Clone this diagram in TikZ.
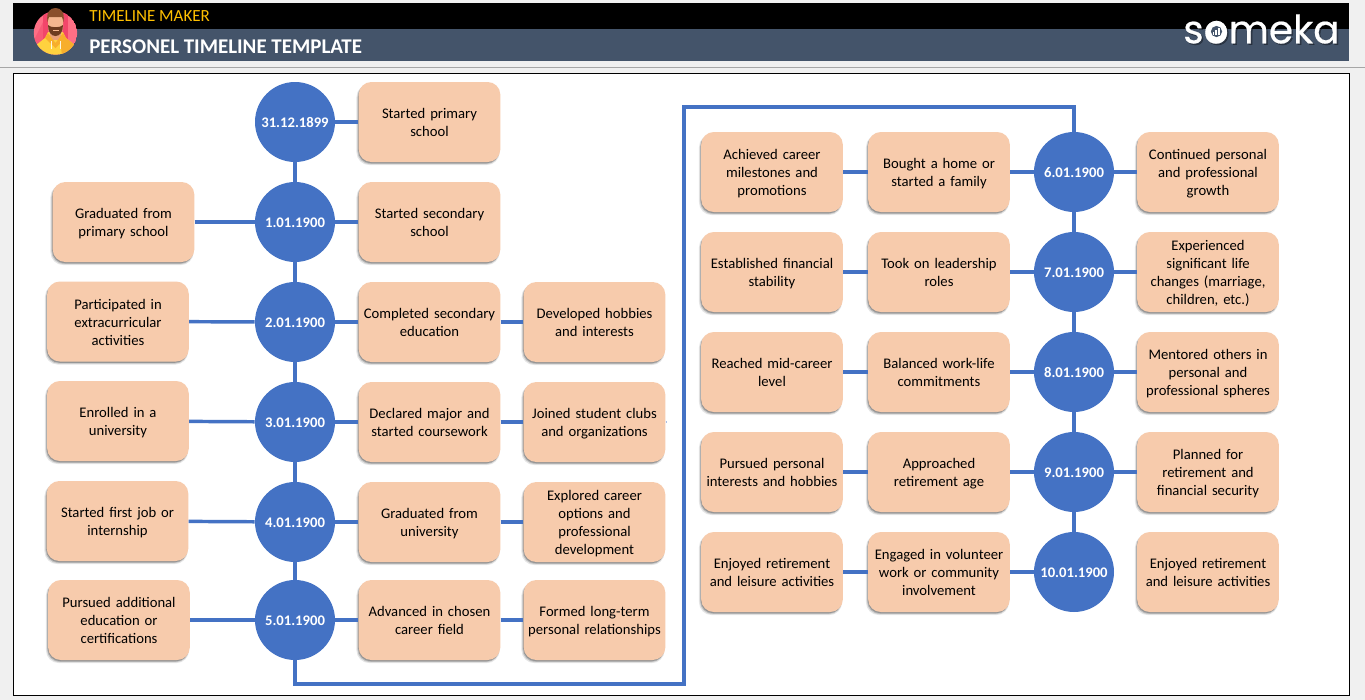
\documentclass[tikz,border=0pt]{standalone}
\usepackage{fontspec}
\setmainfont{Carlito}
\newfontfamily\logofont[FakeBold=0.5]{Poppins}
\usetikzlibrary{shadows,calc}
\definecolor{pagebg}{HTML}{F0F0F0}
\definecolor{slate}{HTML}{44546A}
\definecolor{linkblue}{HTML}{4472C4}
\definecolor{linklight}{HTML}{A9BEE6}
\definecolor{peach}{HTML}{F7CBAC}
\definecolor{gold}{HTML}{FFC000}
\definecolor{sepgray}{HTML}{A6A6A6}
\definecolor{pinkbg}{HTML}{FE6F85}
\definecolor{pinkdk}{HTML}{F2466A}
\definecolor{hair}{HTML}{8A4F2C}
\definecolor{beard}{HTML}{6E3B20}
\definecolor{skin}{HTML}{F4B690}
\definecolor{skindk}{HTML}{E9A079}
\definecolor{hoodie}{HTML}{FFD23F}
\definecolor{hoodiedk}{HTML}{F7AE2C}
\tikzset{
  x=0.75pt,y=-0.75pt,
  evbox/.style={
    general shadow={shadow xshift=-1.1pt,shadow yshift=-2pt,shadow scale=1.01,fill=black,opacity=.10},
    general shadow={shadow xshift=-.9pt,shadow yshift=-1.6pt,fill=black,opacity=.16},
    general shadow={shadow xshift=-.6pt,shadow yshift=-1.1pt,shadow scale=.995,fill=black,opacity=.22},
    fill=peach,draw=none,rounded corners=9.5pt,minimum width=106.25pt,minimum height=60pt,
    align=center,text width=102pt,inner sep=0pt,font=\fontsize{11}{13.5}\selectfont,text=black,
    execute at begin node={\rule{0pt}{12.45pt}},execute at end node={\rule[-4.05pt]{0pt}{0pt}}},
  datedot/.style={circle,fill=linkblue,draw=none,minimum size=60pt,inner sep=0pt,
    font=\fontsize{11}{13.5}\selectfont\bfseries,text=white,text height=10.5pt,text depth=2.2pt},
  link/.style={draw=linkblue,line width=2.6pt},
  spine/.style={draw=linkblue,line width=2.6pt},
  headertitle/.style={anchor=west,inner sep=0pt,text=white,font=\fontsize{15.7}{18}\selectfont\bfseries},
  headersub/.style={anchor=west,inner sep=0pt,text=gold,font=\fontsize{12.75}{15}\selectfont},
}
\begin{document}
\begin{tikzpicture}
\useasboundingbox (0,0) rectangle (1365,700);
\fill[pagebg] (0,0) rectangle (1365,700);
% header
\fill[black] (13,3) rectangle (1349,29);
\fill[slate] (13,29) rectangle (1349,61);
\draw[sepgray,line width=.9pt] (0,67.5) -- (1365,67.5);
\fill[white] (13.5,73.5) rectangle (1349.5,695.5);
\draw[black,line width=1pt] (13.5,73.5) rectangle (1349.5,695.5);
% avatar
\begin{scope}
\clip (55.5,33) circle (21.7);
\fill[pinkbg] (55.5,33) circle (21.7);
\fill[pinkdk] (43,9) rectangle (68,42);
\fill[pinkdk,opacity=.5] (34,40) -- (44,20) -- (44,50) -- cycle;
\fill[hoodie] (33,56) -- (35,46) -- (45,38) -- (48,32) -- (63,32) -- (66,38) -- (76,46) -- (78,56) -- cycle;
\fill[hoodiedk] (60,38) -- (66,38) -- (76,46) -- (78,56) -- (62,56) -- cycle;
\end{scope}
\fill[skindk] (50,30) rectangle (61,40);
\fill[hoodiedk] (48,33) -- (55.5,43) -- (63,33) -- (66,38) -- (55.5,48) -- (45,38) -- cycle;
\fill[skin] (48,15) -- (63,15) -- (63,28) .. controls (63,33) and (59,36) .. (55.5,36) .. controls (52,36) and (48,33) .. (48,28) -- cycle;
\fill[hair] (47.5,22) .. controls (46,12) and (50,8) .. (55.5,8) .. controls (61,8) and (65,12) .. (63.5,22) -- (62,17) -- (49,17) -- cycle;
\fill[beard] (48,25) .. controls (50,28) and (61,28) .. (63,25) .. controls (63,32) and (60,36) .. (55.5,36) .. controls (51,36) and (48,32) .. (48,25) -- cycle;
\fill[skin] (52.5,29.5) rectangle (58.5,31);
\fill[white,opacity=.85] (50.5,41) rectangle (51.5,49);
\fill[white,opacity=.85] (60,41) rectangle (61,49);
% header text
\node[headersub] (hsub) at (89,16) {TIMELINE MAKER};
\node[headertitle] (htitle) at (89,46.5) {PERSONEL TIMELINE TEMPLATE};
\node[anchor=west,inner sep=0pt,text=black,opacity=.35,font=\fontsize{29.3}{30}\logofont] at (1184.5,30.5) {someka};
\node[anchor=west,inner sep=0pt,text=white,font=\fontsize{29.3}{30}\logofont] (logo) at (1183,29) {someka};
\fill[white] (1216.5,31) circle (10.3);
\fill[slate] (1216.5,31.5) circle (5.6);
\fill[white] (1212.8,32) rectangle (1214.3,35);
\fill[white] (1215.4,30) rectangle (1216.9,35);
\fill[white] (1218,28) rectangle (1219.5,35);
% circles left
\node[datedot] (c0) at (295,122) {31.12.1899};
\node[datedot] (c1) at (295,222) {1.01.1900};
\node[datedot] (c2) at (295,322) {2.01.1900};
\node[datedot] (c3) at (295,422) {3.01.1900};
\node[datedot] (c4) at (295,522) {4.01.1900};
\node[datedot] (c5) at (295,620) {5.01.1900};
% circles right
\node[datedot] (d0) at (1074,172) {6.01.1900};
\node[datedot] (d1) at (1074,272) {7.01.1900};
\node[datedot] (d2) at (1074,372) {8.01.1900};
\node[datedot] (d3) at (1074,472) {9.01.1900};
\node[datedot] (d4) at (1074,572) {10.01.1900};
% spines
\draw[spine] (c0) -- (c1);
\draw[spine] (c1) -- (c2);
\draw[spine] (c2) -- (c3);
\draw[spine] (c3) -- (c4);
\draw[spine] (c4) -- (c5);
\draw[spine] (d0) -- (d1);
\draw[spine] (d1) -- (d2);
\draw[spine] (d2) -- (d3);
\draw[spine] (d3) -- (d4);
\coordinate (b1) at (295,684);
\coordinate (b2) at (684,684);
\coordinate (b3) at (684,107);
\coordinate (b4) at (1074,107);
\draw[spine] (c5.south) -- (b1) -- (b2) -- (b3) -- (b4) -- (d0.north);
% left part boxes
\node[evbox] (r0) at (429.5,122) {Started primary\\school};
\node[evbox] (r1) at (429.5,222) {Started secondary\\school};
\node[evbox] (r2) at (429.5,322) {Completed secondary\\education};
\node[evbox] (r3) at (429.5,422) {Declared major and\\started coursework};
\node[evbox] (r4) at (429.5,522) {Graduated from\\university};
\node[evbox] (r5) at (429.5,620) {Advanced in chosen\\career field};
\node[evbox] (s2) at (594.5,322) {Developed hobbies\\and interests};
\node[evbox] (s3) at (594.5,422) {Joined student clubs\\and organizations};
\node[evbox] (s4) at (594.5,522) {Explored career\\options and\\professional\\development};
\node[evbox] (s5) at (594.5,620) {Formed long-term\\personal relationships};
\node[evbox] (l1) at (123.5,222) {Graduated from\\primary school};
\node[evbox] (l2) at (118,321.5) {Participated in\\extracurricular\\activities};
\node[evbox] (l3) at (118,421) {Enrolled in a\\university};
\node[evbox] (l4) at (117.5,521) {Started first job or\\internship};
\node[evbox] (l5) at (119,620) {Pursued additional\\education or\\certifications};
% right part boxes
\node[evbox] (a0) at (772,172) {Achieved career\\milestones and\\promotions};
\node[evbox] (a1) at (772,272) {Established financial\\stability};
\node[evbox] (a2) at (772,372) {Reached mid-career\\level};
\node[evbox] (a3) at (772,472) {Pursued personal\\interests and hobbies};
\node[evbox] (a4) at (772,572) {Enjoyed retirement\\and leisure activities};
\node[evbox] (e0) at (939,172) {Bought a home or\\started a family};
\node[evbox] (e1) at (939,272) {Took on leadership\\roles};
\node[evbox] (e2) at (939,372) {Balanced work-life\\commitments};
\node[evbox] (e3) at (939,472) {Approached\\retirement age};
\node[evbox] (e4) at (939,572) {Engaged in volunteer\\work or community\\involvement};
\node[evbox] (f0) at (1208,172) {Continued personal\\and professional\\growth};
\node[evbox] (f1) at (1208,272) {Experienced\\significant life\\changes (marriage,\\children, etc.)};
\node[evbox] (f2) at (1208,372) {Mentored others in\\personal and\\professional spheres};
\node[evbox] (f3) at (1208,472) {Planned for\\retirement and\\financial security};
\node[evbox] (f4) at (1208,572) {Enjoyed retirement\\and leisure activities};
% links
\foreach \p/\q in {c0/r0,c1/r1,c2/r2,c3/r3,c4/r4,c5/r5,r2/s2,r3/s3,r4/s4,r5/s5,
  l1/c1,l2/c2,l3/c3,l4/c4,l5/c5,a0/e0,a1/e1,a2/e2,a3/e3,a4/e4,e0/d0,e1/d1,e2/d2,e3/d3,e4/d4,d0/f0,d1/f1,d2/f2,d3/f3}
  \draw[link] (\p) -- (\q);
\coordinate (s3tick) at (667,422);
\draw[draw=linklight,line width=2.2pt] (s3.east) -- (s3tick);
\end{tikzpicture}
\end{document}
